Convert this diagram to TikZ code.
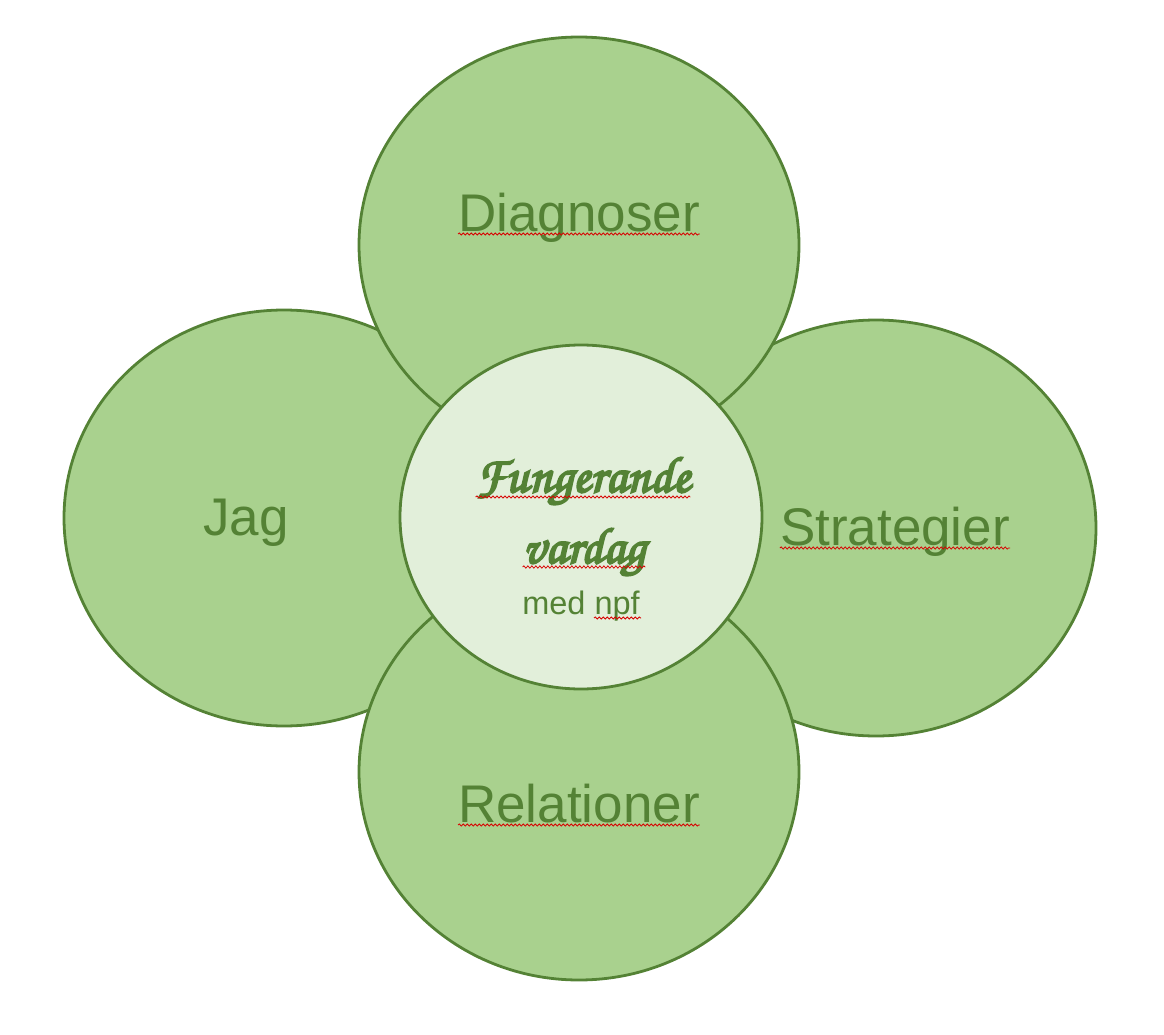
\documentclass[tikz,border=0pt]{standalone}
\usepackage{fontspec}
\setmainfont{Liberation Sans}
\newfontfamily\handfont[FakeBold=4]{texgyrechorus-mediumitalic.otf}
\usetikzlibrary{shapes.geometric, decorations.pathmorphing}
\definecolor{leaf}{HTML}{A9D18E}
\definecolor{leafdark}{HTML}{548235}
\definecolor{leaflight}{HTML}{E2EFDA}

\begin{document}
\begin{tikzpicture}[x=1pt, y=-1pt,
    p/.style={ellipse, draw=leafdark, line width=2.8pt, fill=leaf, minimum width=440pt, minimum height=416pt, inner sep=0pt},
    c/.style={p, fill=leaflight, minimum width=362pt, minimum height=344pt},
    t/.style={anchor=base, text=leafdark, inner sep=0pt, font=\fontsize{53}{60}\selectfont},
    h/.style={t, font=\handfont\fontsize{51}{60}\selectfont},
    sq/.style={red!85!black, line width=0.8pt, decorate, decoration={snake, amplitude=1.1pt, segment length=4pt}},
]
\useasboundingbox (0,0) rectangle (1164,1035);
\node[p] (jag) at (284,518) {};
\node[p] (strat) at (876,528) {};
\node[p] (diag) at (579,245) {};
\node[p] (rel) at (579,772) {};
\node[c] (mid) at (581,517) {};

\node[t] (diagtxt) at (579,231) {Diagnoser};
\node[t] (jagtxt) at (246,535) {Jag};
\node[t] (strattxt) at (895,545) {Strategier};
\node[t] (reltxt) at (579,822) {Relationer};
\node[h] (fung) at (583,492) {Fungerande};
\node[h] (vard) at (584,563) {vardag};
\node[t, font=\fontsize{32.5}{36}\selectfont] (npf) at (581,614) {med npf};

\draw[sq] ([yshift=-3pt]diagtxt.base west) -- ([yshift=-3pt]diagtxt.base east);
\draw[sq] ([yshift=-3pt]strattxt.base west) -- ([yshift=-3pt]strattxt.base east);
\draw[sq] ([yshift=-3pt]reltxt.base west) -- ([yshift=-3pt]reltxt.base east);
\draw[sq] ([yshift=-5pt]fung.base west) -- ([yshift=-5pt]fung.base east);
\draw[sq] ([yshift=-4pt]vard.base west) -- ([yshift=-4pt]vard.base east);
\draw[sq] (594,618) -- (641,618);
\end{tikzpicture}
\end{document}
